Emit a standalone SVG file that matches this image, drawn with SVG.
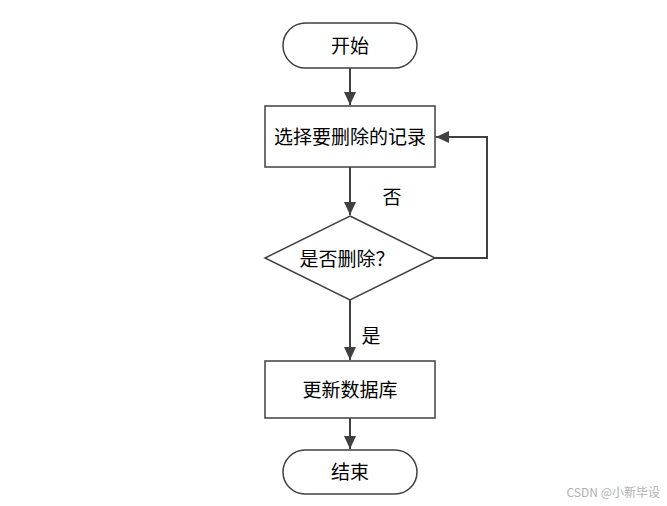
<svg xmlns="http://www.w3.org/2000/svg" width="667" height="506" viewBox="0 0 667 506">
<style>
.n{fill:#fff;stroke:#404040;stroke-width:1.5}
.t{font-family:"Liberation Serif","Noto Sans CJK SC",serif;font-size:19px;fill:#000;text-anchor:middle;dominant-baseline:central}
.c{fill:none;stroke:#404040;stroke-width:2}
</style>
<defs>
<marker id="a" markerWidth="13" markerHeight="12" refX="13" refY="6" orient="auto" markerUnits="userSpaceOnUse" viewBox="0 0 13 12">
<path d="M0,0 L13,6 L0,12 Z" fill="#404040"/>
</marker>
</defs>
<rect width="667" height="506" fill="#fff"/>
<g id="connectors">
<line class="c" x1="350" y1="68" x2="350" y2="105" marker-end="url(#a)"/>
<line class="c" x1="350" y1="167" x2="350" y2="215" marker-end="url(#a)"/>
<polyline class="c" points="435,258 487,258 487,137 436,137" marker-end="url(#a)"/>
<line class="c" x1="350" y1="300" x2="350" y2="360" marker-end="url(#a)"/>
<line class="c" x1="350" y1="418" x2="350" y2="449" marker-end="url(#a)"/>
<text class="t" x="392" y="197">否</text>
<text class="t" x="371" y="336">是</text>
</g>
<g id="start">
<rect class="n" x="283" y="23" width="134" height="45" rx="22.5"/>
<text class="t" x="350" y="46">开始</text>
</g>
<g id="select">
<rect class="n" x="265" y="106" width="170" height="61"/>
<text class="t" x="350" y="137">选择要删除的记录</text>
</g>
<g id="decide">
<polygon class="n" points="350,216 435,258 350,300 265,258"/>
<text class="t" x="347" y="259">是否删除？</text>
</g>
<g id="update">
<rect class="n" x="265" y="361" width="170" height="57"/>
<text class="t" x="350" y="390">更新数据库</text>
</g>
<g id="end">
<rect class="n" x="283" y="450" width="134" height="44" rx="22"/>
<text class="t" x="350" y="472">结束</text>
</g>
<text x="660" y="497" font-family="'Noto Sans CJK SC',sans-serif" font-size="12" fill="#b0b0b0" text-anchor="end">CSDN @小新毕设</text>
</svg>
